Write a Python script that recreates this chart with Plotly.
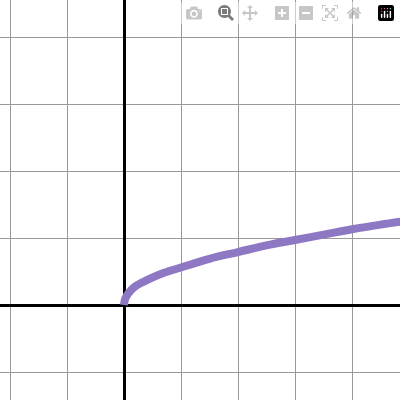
import plotly.graph_objects as go

xs = [0, 0.02, 0.08, 0.2, 0.4, 0.7, 1.0, 1.5, 2.0, 2.5, 3.0, 3.5, 4.0, 4.5, 4.9]
ys = [0, 0.09, 0.18, 0.28, 0.37, 0.48, 0.56, 0.69, 0.79, 0.89, 0.97, 1.05, 1.13, 1.2, 1.25]

fig = go.Figure()
fig.add_trace(go.Scatter(x=xs, y=ys, mode="lines",
                         line=dict(color="#8e78c3", width=8, shape="spline"),
                         hoverinfo="skip"))
fig.update_layout(width=400, height=400, margin=dict(l=0, r=0, t=0, b=0, pad=0),
                  plot_bgcolor="white", paper_bgcolor="white", showlegend=False)
fig.update_xaxes(range=[-124/57, 276/57], dtick=1, showgrid=True, gridcolor="#999",
                 gridwidth=1, zeroline=True, zerolinecolor="black", zerolinewidth=3,
                 showticklabels=False, ticks="")
fig.update_yaxes(range=[-95/67, 305/67], dtick=1, showgrid=True, gridcolor="#999",
                 gridwidth=1, zeroline=True, zerolinecolor="black", zerolinewidth=3,
                 showticklabels=False, ticks="")
fig.write_html("out.html", post_script="document.body.style.margin='0';")
